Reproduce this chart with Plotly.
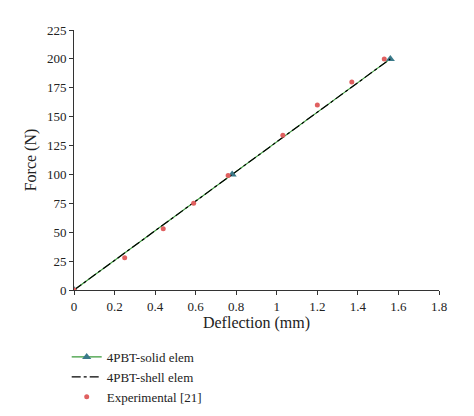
import plotly.graph_objects as go

solid_x = [0, 0.78, 1.56]
solid_y = [0, 100, 200]
shell_x = [0, 0.78, 1.56]
shell_y = [0, 100, 200]
exp_x = [0, 0.25, 0.44, 0.59, 0.76, 1.03, 1.20, 1.37, 1.53]
exp_y = [0, 28, 53, 75, 99, 134, 160, 180, 200]

font = "Liberation Serif"
fig = go.Figure()
fig.add_trace(go.Scatter(x=solid_x, y=solid_y, mode="lines+markers", name="4PBT-solid elem",
                         line=dict(color="#3a9a3a", width=1.2),
                         marker=dict(symbol="triangle-up", size=8, color="#3a7a8a")))
fig.add_trace(go.Scatter(x=shell_x, y=shell_y, mode="lines", name="4PBT-shell elem",
                         line=dict(color="black", width=1.2, dash="dashdot")))
fig.add_trace(go.Scatter(x=exp_x, y=exp_y, mode="markers", name="Experimental [21]",
                         marker=dict(color="#e06060", size=5)))
ax = dict(showgrid=False, zeroline=False, showline=True, linecolor="#333", linewidth=1,
          ticks="outside", ticklen=4, tickcolor="#333", tickfont=dict(family=font, size=13, color="#222"))
fig.update_layout(
    width=474, height=416, plot_bgcolor="white", paper_bgcolor="white",
    margin=dict(l=66, r=43, t=22, b=130),
    font=dict(family=font, size=13, color="#222"),
    xaxis=dict(range=[0, 1.8], dtick=0.2, title=dict(text="Deflection (mm)", standoff=4), **ax),
    yaxis=dict(range=[0, 225], dtick=25, title=dict(text="Force (N)", standoff=6), **ax),
    legend=dict(x=-0.02, y=-0.2, xanchor="left", yanchor="top", font=dict(family=font, size=13),
                tracegroupgap=0, itemwidth=30, bgcolor="rgba(0,0,0,0)"),
)
fig.write_html("out.html")
